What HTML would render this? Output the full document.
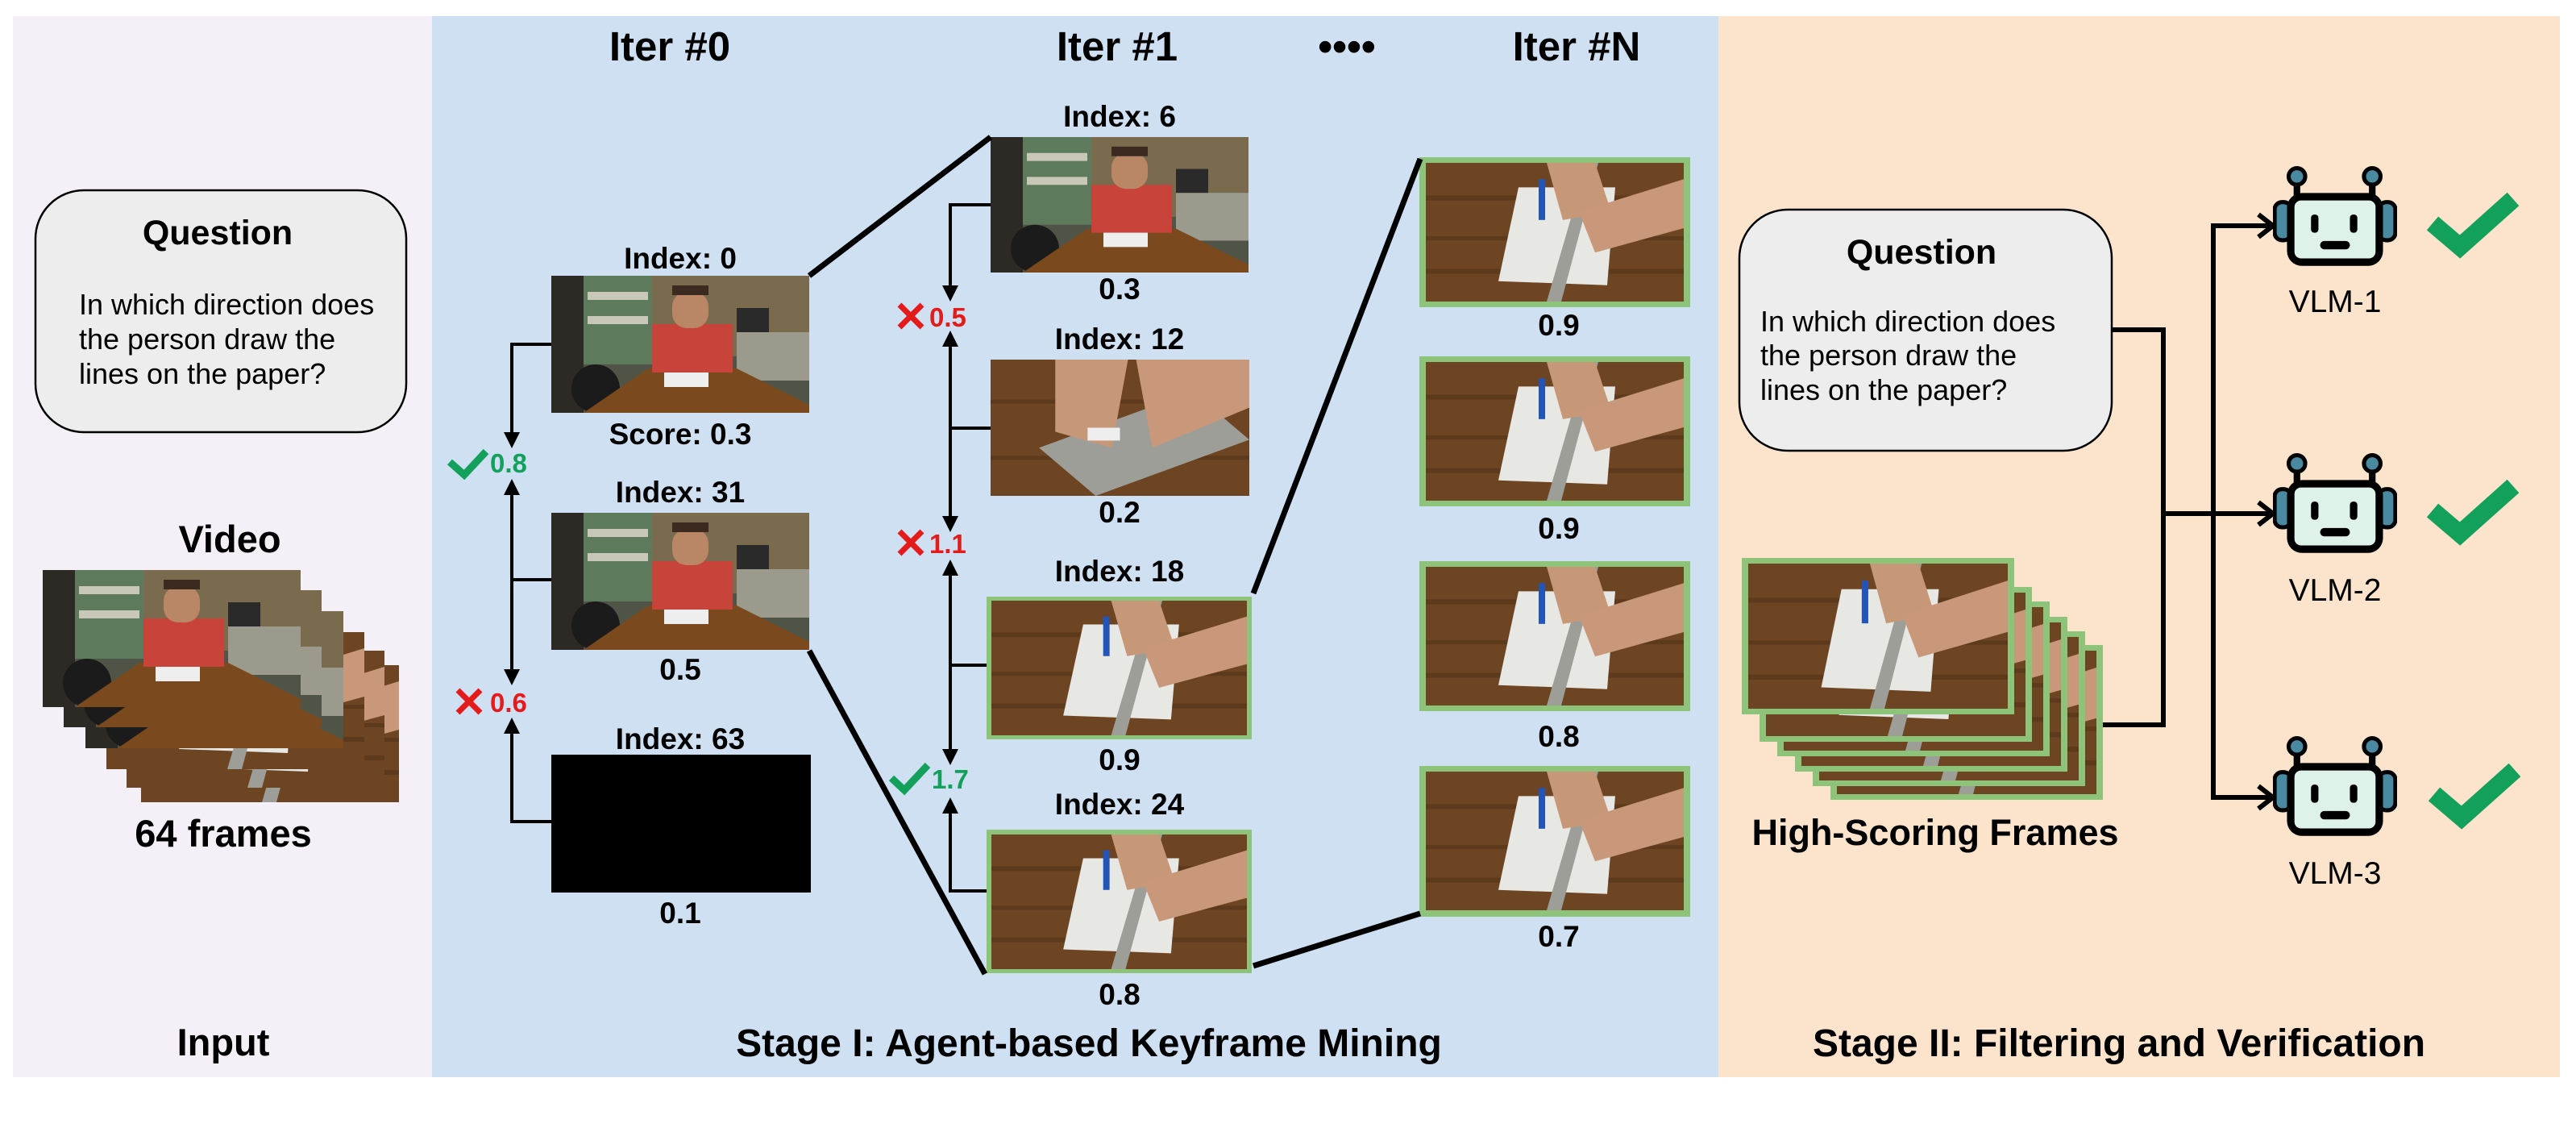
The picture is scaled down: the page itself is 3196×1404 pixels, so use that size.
<!DOCTYPE html>
<html><head><meta charset="utf-8"><style>
html,body{margin:0;padding:0;background:#fff;}
svg{display:block;}
text{font-family:"Liberation Sans",sans-serif;}
</style></head><body>
<svg width="3196" height="1404" viewBox="0 0 3196 1404" xmlns="http://www.w3.org/2000/svg">
<defs>
<symbol id="shop" viewBox="0 0 320 170" preserveAspectRatio="none">
<rect width="320" height="170" fill="#4f5446"/>
<rect x="0" y="0" width="40" height="170" fill="#2d2a26"/>
<rect x="40" y="0" width="85" height="110" fill="#5e7a5c"/>
<rect x="45" y="20" width="75" height="10" fill="#c9c7b8"/>
<rect x="45" y="50" width="75" height="10" fill="#c9c7b8"/>
<rect x="125" y="0" width="195" height="100" fill="#7a6a4e"/>
<rect x="230" y="70" width="90" height="60" fill="#9c9a8c"/>
<rect x="230" y="40" width="40" height="30" fill="#2a2a2a"/>
<circle cx="55" cy="140" r="30" fill="#1b1b1b"/>
<polygon points="40,170 120,115 230,115 320,160 320,170" fill="#7a4a1e"/>
<rect x="125" y="60" width="100" height="60" fill="#c8433a"/>
<rect x="150" y="20" width="45" height="45" rx="18" fill="#b98666"/>
<rect x="150" y="12" width="45" height="12" fill="#3a2a20"/>
<rect x="140" y="120" width="55" height="18" fill="#eeeeee"/>
</symbol>
<symbol id="wood" viewBox="0 0 320 170" preserveAspectRatio="none">
<rect width="320" height="170" fill="#6d4523"/>
<rect y="40" width="320" height="6" fill="#5d3a1c"/>
<rect y="90" width="320" height="5" fill="#5d3a1c"/>
<rect y="130" width="320" height="6" fill="#5d3a1c"/>
<polygon points="90,145 115,30 235,30 225,150" fill="#e7e7e3"/>
<polygon points="150,170 200,0 214,0 168,170" fill="#9d9e98"/>
<polygon points="150,0 210,0 230,60 170,70" fill="#c79878"/>
<polygon points="190,60 320,20 320,80 210,110" fill="#c9977a"/>
<rect x="140" y="20" width="8" height="50" fill="#2355b8"/>
</symbol>
<symbol id="woodp" viewBox="0 0 320 170" preserveAspectRatio="none">
<rect width="320" height="170" fill="#6d4523"/>
<rect y="50" width="320" height="5" fill="#5d3a1c"/>
<rect y="120" width="320" height="5" fill="#5d3a1c"/>
<polygon points="60,110 250,40 320,100 130,170" fill="#9d9e98"/>
<polygon points="80,0 170,0 150,110 80,90" fill="#c79878"/>
<polygon points="180,0 320,0 320,60 200,110" fill="#c9977a"/>
<rect x="120" y="85" width="40" height="16" fill="#eeeeee"/>
</symbol>
<symbol id="robot" viewBox="0 0 150 120">
<line x1="29" y1="22" x2="29" y2="40" stroke="#000" stroke-width="8"/>
<line x1="120" y1="22" x2="120" y2="40" stroke="#000" stroke-width="8"/>
<circle cx="29" cy="17" r="10" fill="#4a8aa0" stroke="#000" stroke-width="5"/>
<circle cx="120" cy="17" r="10" fill="#4a8aa0" stroke="#000" stroke-width="5"/>
<rect x="2" y="48" width="20" height="46" rx="9" fill="#4a8aa0" stroke="#000" stroke-width="5"/>
<rect x="128" y="48" width="20" height="46" rx="9" fill="#4a8aa0" stroke="#000" stroke-width="5"/>
<rect x="17" y="37" width="116" height="88" rx="18" fill="#000"/>
<rect x="26" y="46" width="98" height="70" rx="8" fill="#dff2ea"/>
<rect x="46" y="63" width="9" height="22" rx="4" fill="#000"/>
<rect x="93" y="63" width="9" height="22" rx="4" fill="#000"/>
<rect x="57" y="95" width="36" height="10" rx="5" fill="#000"/>
</symbol>
<marker id="ah" viewBox="0 0 10 10" refX="5" refY="5" markerWidth="5" markerHeight="5" orient="auto"><path d="M0,0 L10,5 L0,10 z" fill="#000"/></marker>
</defs>

<rect x="16" y="20" width="520" height="1316" fill="#f5f0f8"/>
<rect x="536" y="20" width="1596" height="1316" fill="#cfe0f3"/>
<rect x="2132" y="20" width="1044" height="1316" fill="#fbe3cc"/>

<!-- Input panel -->
<rect x="44" y="236" width="460" height="300" rx="60" fill="#ededed" stroke="#000" stroke-width="2.5"/>
<text x="270" y="303" font-size="43" font-weight="bold" text-anchor="middle">Question</text>
<text x="98" y="390" font-size="36">In which direction does</text>
<text x="98" y="433" font-size="36">the person draw the</text>
<text x="98" y="476" font-size="36">lines on the paper?</text>
<text x="285" y="685" font-size="47" font-weight="bold" text-anchor="middle">Video</text>
<use href="#wood" x="175" y="825" width="320" height="170"/>
<use href="#wood" x="157" y="807" width="320" height="170"/>
<use href="#wood" x="132" y="784" width="320" height="170"/>
<use href="#shop" x="106" y="758" width="320" height="170"/>
<use href="#shop" x="79" y="732" width="320" height="170"/>
<use href="#shop" x="53" y="707" width="320" height="170"/>
<text x="277" y="1050" font-size="47" font-weight="bold" text-anchor="middle">64 frames</text>
<text x="277" y="1309" font-size="47" font-weight="bold" text-anchor="middle">Input</text>

<text x="831" y="75" font-size="51" font-weight="bold" text-anchor="middle">Iter #0</text>
<text x="1386" y="75" font-size="51" font-weight="bold" text-anchor="middle">Iter #1</text>
<text x="1671" y="75" font-size="51" font-weight="bold" text-anchor="middle">••••</text>
<text x="1956" y="75" font-size="51" font-weight="bold" text-anchor="middle">Iter #N</text>

<!-- Iter 0 -->
<text x="844" y="333" font-size="37" font-weight="bold" text-anchor="middle">Index: 0</text>
<use href="#shop" x="684" y="342" width="320" height="170"/>
<text x="844" y="551" font-size="37" font-weight="bold" text-anchor="middle">Score: 0.3</text>
<text x="844" y="623" font-size="37" font-weight="bold" text-anchor="middle">Index: 31</text>
<use href="#shop" x="684" y="636" width="320" height="170"/>
<text x="844" y="843" font-size="37" font-weight="bold" text-anchor="middle">0.5</text>
<text x="844" y="929" font-size="37" font-weight="bold" text-anchor="middle">Index: 63</text>
<rect x="684" y="936" width="322" height="171" fill="#000"/>
<text x="844" y="1145" font-size="37" font-weight="bold" text-anchor="middle">0.1</text>

<g stroke="#000" stroke-width="4" fill="none">
<polyline points="684,427 635,427 635,546" marker-end="url(#ah)"/>
<polyline points="635,719 635,604" marker-end="url(#ah)"/>
<polyline points="684,719 635,719 635,840" marker-end="url(#ah)"/>
<polyline points="684,1019 635,1019 635,900" marker-end="url(#ah)"/>
</g>
<polyline points="558,573 576,589 603,560" stroke="#12a05a" stroke-width="9" fill="none"/>
<text x="608" y="586" font-size="33" font-weight="bold" fill="#12a05a">0.8</text>
<path d="M568,856 L596,884 M596,856 L568,884" stroke="#e41b1b" stroke-width="7"/>
<text x="608" y="883" font-size="33" font-weight="bold" fill="#e41b1b">0.6</text>

<!-- Iter 1 -->
<text x="1389" y="157" font-size="37" font-weight="bold" text-anchor="middle">Index: 6</text>
<use href="#shop" x="1229" y="170" width="320" height="168"/>
<text x="1389" y="371" font-size="37" font-weight="bold" text-anchor="middle">0.3</text>
<text x="1389" y="433" font-size="37" font-weight="bold" text-anchor="middle">Index: 12</text>
<use href="#woodp" x="1229" y="446" width="321" height="169"/>
<text x="1389" y="648" font-size="37" font-weight="bold" text-anchor="middle">0.2</text>
<text x="1389" y="721" font-size="37" font-weight="bold" text-anchor="middle">Index: 18</text>
<rect x="1224" y="740" width="329" height="177" fill="#8ec47a"/>
<use href="#wood" x="1230" y="745" width="317" height="167"/>
<text x="1389" y="955" font-size="37" font-weight="bold" text-anchor="middle">0.9</text>
<text x="1389" y="1010" font-size="37" font-weight="bold" text-anchor="middle">Index: 24</text>
<rect x="1224" y="1029" width="329" height="178" fill="#8ec47a"/>
<use href="#wood" x="1230" y="1035" width="317" height="167"/>
<text x="1389" y="1246" font-size="37" font-weight="bold" text-anchor="middle">0.8</text>

<g stroke="#000" stroke-width="4" fill="none">
<polyline points="1229,254 1179,254 1179,364" marker-end="url(#ah)"/>
<polyline points="1179,531 1179,420" marker-end="url(#ah)"/>
<polyline points="1229,531 1179,531 1179,650" marker-end="url(#ah)"/>
<polyline points="1179,825 1179,704" marker-end="url(#ah)"/>
<polyline points="1224,825 1179,825 1179,939" marker-end="url(#ah)"/>
<polyline points="1224,1105 1179,1105 1179,999" marker-end="url(#ah)"/>
</g>
<path d="M1116,378 L1144,406 M1144,378 L1116,406" stroke="#e41b1b" stroke-width="7"/>
<text x="1153" y="405" font-size="33" font-weight="bold" fill="#e41b1b">0.5</text>
<path d="M1116,659 L1144,687 M1144,659 L1116,687" stroke="#e41b1b" stroke-width="7"/>
<text x="1153" y="686" font-size="33" font-weight="bold" fill="#e41b1b">1.1</text>
<polyline points="1106,965 1122,980 1151,949" stroke="#12a05a" stroke-width="9" fill="none"/>
<text x="1156" y="978" font-size="33" font-weight="bold" fill="#12a05a">1.7</text>

<!-- Iter N -->
<rect x="1761" y="195" width="336" height="186" fill="#8ec47a"/><use href="#wood" x="1769" y="202" width="320" height="172"/>
<text x="1934" y="416" font-size="37" font-weight="bold" text-anchor="middle">0.9</text>
<rect x="1761" y="442" width="336" height="186" fill="#8ec47a"/><use href="#wood" x="1769" y="449" width="320" height="172"/>
<text x="1934" y="668" font-size="37" font-weight="bold" text-anchor="middle">0.9</text>
<rect x="1761" y="696" width="336" height="186" fill="#8ec47a"/><use href="#wood" x="1769" y="703" width="320" height="172"/>
<text x="1934" y="926" font-size="37" font-weight="bold" text-anchor="middle">0.8</text>
<rect x="1761" y="950" width="336" height="187" fill="#8ec47a"/><use href="#wood" x="1769" y="957" width="320" height="172"/>
<text x="1934" y="1174" font-size="37" font-weight="bold" text-anchor="middle">0.7</text>

<g stroke="#000" stroke-width="7">
<line x1="1004" y1="342" x2="1229" y2="170"/>
<line x1="1004" y1="807" x2="1222" y2="1208"/>
<line x1="1555" y1="736" x2="1762" y2="197"/>
<line x1="1555" y1="1198" x2="1762" y2="1133"/>
</g>
<text x="1351" y="1310" font-size="48" font-weight="bold" text-anchor="middle">Stage I: Agent-based Keyframe Mining</text>

<!-- Stage II -->
<rect x="2158" y="260" width="462" height="299" rx="60" fill="#ededed" stroke="#000" stroke-width="2.5"/>
<text x="2384" y="327" font-size="43" font-weight="bold" text-anchor="middle">Question</text>
<text x="2184" y="411" font-size="36">In which direction does</text>
<text x="2184" y="453" font-size="36">the person draw the</text>
<text x="2184" y="496" font-size="36">lines on the paper?</text>

<rect x="2271" y="800" width="338" height="192" fill="#8ec47a"/><use href="#wood" x="2279" y="807" width="322" height="178"/>
<rect x="2249" y="783" width="338" height="192" fill="#8ec47a"/><use href="#wood" x="2257" y="790" width="322" height="178"/>
<rect x="2227" y="765" width="338" height="192" fill="#8ec47a"/><use href="#wood" x="2235" y="772" width="322" height="178"/>
<rect x="2205" y="746" width="338" height="192" fill="#8ec47a"/><use href="#wood" x="2213" y="753" width="322" height="178"/>
<rect x="2183" y="728" width="338" height="192" fill="#8ec47a"/><use href="#wood" x="2191" y="735" width="322" height="178"/>
<rect x="2161" y="692" width="338" height="194" fill="#8ec47a"/><use href="#wood" x="2169" y="699" width="322" height="180"/>
<text x="2401" y="1048" font-size="45" font-weight="bold" text-anchor="middle">High-Scoring Frames</text>

<g stroke="#000" stroke-width="6" fill="none">
<polyline points="2620,409 2684,409 2684,899 2609,899"/>
<line x1="2684" y1="637" x2="2746" y2="637"/>
<polyline points="2820,280 2746,280 2746,989 2820,989"/>
<line x1="2746" y1="637" x2="2820" y2="637"/>
<polyline points="2802,266 2820,280 2802,294"/>
<polyline points="2802,623 2820,637 2802,651"/>
<polyline points="2802,975 2820,989 2802,1003"/>
</g>

<use href="#robot" x="2820" y="196" width="154" height="134"/>
<use href="#robot" x="2820" y="552" width="154" height="134"/>
<use href="#robot" x="2820" y="903" width="154" height="134"/>
<text x="2897" y="387" font-size="39" text-anchor="middle">VLM-1</text>
<text x="2897" y="745" font-size="39" text-anchor="middle">VLM-2</text>
<text x="2897" y="1096" font-size="39" text-anchor="middle">VLM-3</text>
<g stroke="#12a05a" stroke-width="22" fill="none">
<polyline points="3018,277 3052,306 3118,247"/>
<polyline points="3018,633 3052,662 3118,603"/>
<polyline points="3020,985 3054,1014 3120,955"/>
</g>
<text x="2629" y="1310" font-size="48" font-weight="bold" text-anchor="middle">Stage II: Filtering and Verification</text>
</svg>
</body></html>
